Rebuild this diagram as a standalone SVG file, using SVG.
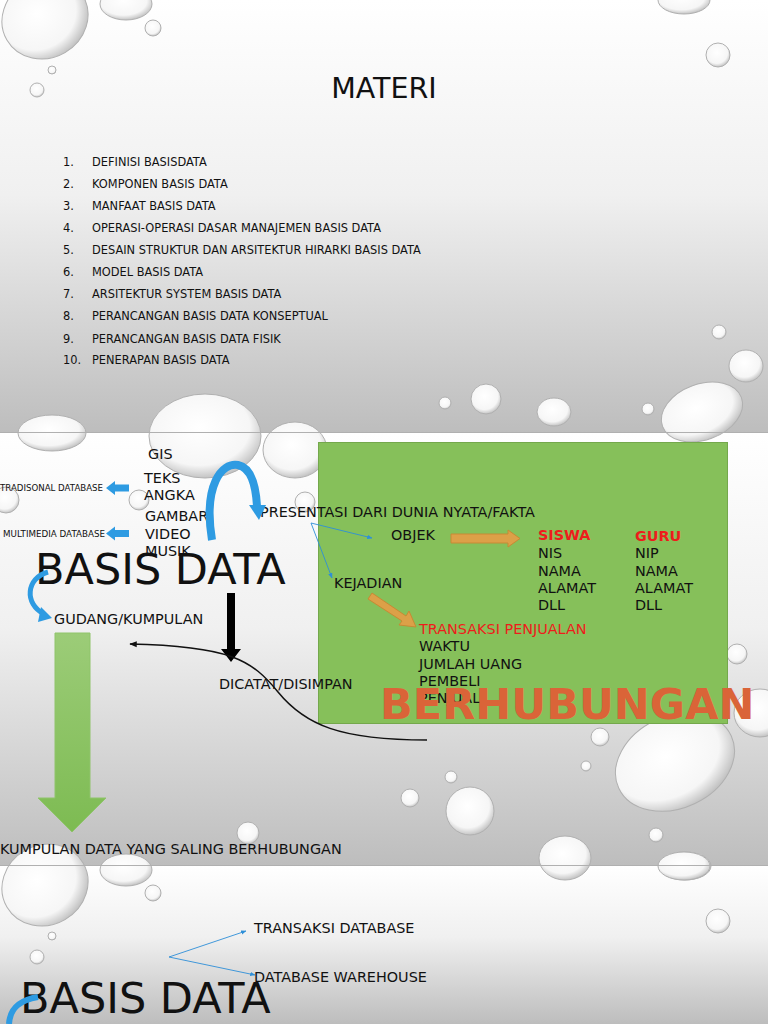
<svg xmlns="http://www.w3.org/2000/svg" width="768" height="1024" viewBox="0 0 768 1024">
<defs>
<linearGradient id="bg" x1="0" y1="0" x2="0" y2="1">
<stop offset="0" stop-color="#ffffff"/>
<stop offset="0.45" stop-color="#f0f0f0"/>
<stop offset="1" stop-color="#bdbdbd"/>
</linearGradient>
<radialGradient id="drop" cx="0.45" cy="0.4" r="0.6">
<stop offset="0" stop-color="#ffffff"/>
<stop offset="0.75" stop-color="#f6f6f6"/>
<stop offset="1" stop-color="#c4c4c4"/>
</radialGradient>
<linearGradient id="garrow" x1="0" y1="0" x2="0" y2="1">
<stop offset="0" stop-color="#9ccc78"/>
<stop offset="1" stop-color="#7dbb52"/>
</linearGradient>
<marker id="bluehead" viewBox="0 0 10 10" refX="9" refY="5" markerWidth="6" markerHeight="6" orient="auto">
<path d="M0,1 L10,5 L0,9 z" fill="#2e8fd8"/>
</marker>
<marker id="blackhead" viewBox="0 0 10 10" refX="9" refY="5" markerWidth="5" markerHeight="5" orient="auto">
<path d="M0,1 L10,5 L0,9 z" fill="#111"/>
</marker>
</defs>
<style>
text{font-family:"DejaVu Sans","Liberation Sans",sans-serif;fill:#111}
.li{font-size:11.4px}
.t14{font-size:14.4px}
.big{font-size:43px}
.sm{font-size:8.5px}
.red{fill:#ee1c1c}
.drop{fill:url(#drop);stroke:#b0b0b0;stroke-width:1}
.thin{fill:none;stroke:#2e8fd8;stroke-width:0.9;marker-end:url(#bluehead)}
.blue{fill:#2e9be2}
.orange{fill:#dca048;stroke:#c78a34;stroke-width:1}
</style>

<!-- slide backgrounds -->
<rect x="0" y="0" width="768" height="433" fill="url(#bg)"/>
<rect x="0" y="433" width="768" height="433" fill="url(#bg)"/>
<rect x="0" y="866" width="768" height="158" fill="url(#bg)"/>

<!-- water drops slide 1 -->
<g id="drops1">
<ellipse class="drop" cx="45" cy="18" rx="44" ry="40" transform="rotate(-30 45 18)"/>
<ellipse class="drop" cx="126" cy="4" rx="26" ry="16"/>
<circle class="drop" cx="153" cy="28" r="8"/>
<circle class="drop" cx="52" cy="70" r="4"/>
<circle class="drop" cx="37" cy="90" r="7"/>
<ellipse class="drop" cx="684" cy="0" rx="26" ry="14"/>
<circle class="drop" cx="718" cy="55" r="12"/>
<circle class="drop" cx="719" cy="332" r="7"/>
<ellipse class="drop" cx="746" cy="366" rx="17" ry="16"/>
<ellipse class="drop" cx="702" cy="412" rx="42" ry="28" transform="rotate(-20 702 412)"/>
<circle class="drop" cx="486" cy="399" r="15"/>
<ellipse class="drop" cx="554" cy="412" rx="17" ry="14"/>
<circle class="drop" cx="445" cy="403" r="6"/>
<circle class="drop" cx="648" cy="409" r="6"/>
</g>

<!-- water drops slide 2 -->
<g id="drops2">
<ellipse class="drop" cx="52" cy="433" rx="34" ry="18"/>
<ellipse class="drop" cx="205" cy="436" rx="56" ry="42"/>
<ellipse class="drop" cx="295" cy="450" rx="32" ry="28"/>
<circle class="drop" cx="6" cy="500" r="13"/>
<circle class="drop" cx="139" cy="500" r="10"/>
<circle class="drop" cx="305" cy="502" r="10"/>
<circle class="drop" cx="737" cy="654" r="10"/>
<ellipse class="drop" cx="760" cy="713" rx="26" ry="24"/>
<ellipse class="drop" cx="675" cy="762" rx="62" ry="46" transform="rotate(-25 675 762)"/>
<circle class="drop" cx="600" cy="737" r="9"/>
<circle class="drop" cx="586" cy="766" r="5"/>
<circle class="drop" cx="451" cy="777" r="6"/>
<circle class="drop" cx="410" cy="798" r="9"/>
<circle class="drop" cx="470" cy="811" r="24"/>
<circle class="drop" cx="656" cy="835" r="7"/>
<circle class="drop" cx="248" cy="833" r="11"/>
<ellipse class="drop" cx="565" cy="858" rx="26" ry="22"/>
<ellipse class="drop" cx="685" cy="866" rx="26" ry="14"/>
</g>

<!-- water drops slide 3 -->
<g id="drops3">
<ellipse class="drop" cx="45" cy="885" rx="44" ry="40" transform="rotate(-30 45 885)"/>
<ellipse class="drop" cx="126" cy="870" rx="26" ry="16"/>
<circle class="drop" cx="153" cy="893" r="8"/>
<circle class="drop" cx="52" cy="936" r="4"/>
<circle class="drop" cx="37" cy="957" r="7"/>
<ellipse class="drop" cx="684" cy="866" rx="26" ry="14"/>
<circle class="drop" cx="718" cy="921" r="12"/>
</g>
<line x1="0" y1="432.5" x2="768" y2="432.5" stroke="#b0b0b0" stroke-width="1"/>
<line x1="0" y1="865.5" x2="768" y2="865.5" stroke="#b0b0b0" stroke-width="1"/>

<!-- slide 1 -->
<g id="materi">
<text x="384" y="98" font-size="28.5" text-anchor="middle">MATERI</text>
</g>
<g id="list">
<text class="li" x="63" y="166">1.</text><text class="li" x="92" y="166">DEFINISI BASISDATA</text>
<text class="li" x="63" y="188">2.</text><text class="li" x="92" y="188">KOMPONEN BASIS DATA</text>
<text class="li" x="63" y="210">3.</text><text class="li" x="92" y="210">MANFAAT BASIS DATA</text>
<text class="li" x="63" y="232">4.</text><text class="li" x="92" y="232">OPERASI-OPERASI DASAR MANAJEMEN BASIS DATA</text>
<text class="li" x="63" y="254">5.</text><text class="li" x="92" y="254">DESAIN STRUKTUR DAN ARSITEKTUR HIRARKI BASIS DATA</text>
<text class="li" x="63" y="276">6.</text><text class="li" x="92" y="276">MODEL BASIS DATA</text>
<text class="li" x="63" y="298">7.</text><text class="li" x="92" y="298">ARSITEKTUR SYSTEM BASIS DATA</text>
<text class="li" x="63" y="320">8.</text><text class="li" x="92" y="320">PERANCANGAN BASIS DATA KONSEPTUAL</text>
<text class="li" x="63" y="343">9.</text><text class="li" x="92" y="343">PERANCANGAN BASIS DATA FISIK</text>
<text class="li" x="63" y="364">10.</text><text class="li" x="92" y="364">PENERAPAN BASIS DATA</text>
</g>

<!-- slide 2 -->
<g id="greenbox">
<rect x="318.5" y="442.5" width="409" height="281" fill="#86c05a" stroke="#74a84c" stroke-width="1"/>
</g>

<g id="types">
<text class="t14" x="148" y="459">GIS</text>
<text class="t14" x="144" y="483">TEKS</text>
<text class="t14" x="144" y="500">ANGKA</text>
<text class="t14" x="145" y="521">GAMBAR</text>
<text class="t14" x="145" y="539">VIDEO</text>
<text class="t14" x="145" y="556">MUSIK</text>
</g>
<g id="tradisional">
<text class="sm" x="0" y="491" textLength="103" lengthAdjust="spacingAndGlyphs">TRADISONAL DATABASE</text>
<path class="blue" d="M129,484.5 L115,484.5 L115,481 L106,488 L115,495 L115,491.5 L129,491.5 z"/>
</g>
<g id="multimedia">
<text class="sm" x="3" y="537" textLength="102" lengthAdjust="spacingAndGlyphs">MULTIMEDIA DATABASE</text>
<path class="blue" d="M129,530 L115,530 L115,526.5 L106,533.5 L115,540.5 L115,537 L129,537 z"/>
</g>
<g id="basisdata2">
<text class="big" x="35" y="584">BASIS DATA</text>
</g>
<g id="presentasi">
<text class="t14" x="260" y="517">PRESENTASI DARI DUNIA NYATA/FAKTA</text>
</g>
<g id="objek">
<text class="t14" x="391" y="540">OBJEK</text>
</g>
<g id="kejadian">
<text class="t14" x="334" y="588">KEJADIAN</text>
</g>
<g id="siswa">
<text class="t14 red" x="538" y="540" font-weight="bold">SISWA</text>
<text class="t14" x="538" y="558">NIS</text>
<text class="t14" x="538" y="576">NAMA</text>
<text class="t14" x="538" y="593">ALAMAT</text>
<text class="t14" x="538" y="610">DLL</text>
</g>
<g id="guru">
<text class="t14 red" x="635" y="541" font-weight="bold">GURU</text>
<text class="t14" x="635" y="558">NIP</text>
<text class="t14" x="635" y="576">NAMA</text>
<text class="t14" x="635" y="593">ALAMAT</text>
<text class="t14" x="635" y="610">DLL</text>
</g>
<g id="transaksi">
<text class="t14 red" x="419" y="634">TRANSAKSI PENJUALAN</text>
<text class="t14" x="419" y="651">WAKTU</text>
<text class="t14" x="419" y="669">JUMLAH UANG</text>
<text class="t14" x="419" y="686">PEMBELI</text>
<text class="t14" x="419" y="703">PENJUAL</text>
</g>
<g id="berhubungan">
<text x="380" y="719" font-size="43" font-weight="bold" style="fill:#da6438">BERHUBUNGAN</text>
</g>
<g id="gudang">
<text class="t14" x="54" y="624">GUDANG/KUMPULAN</text>
</g>
<g id="dicatat">
<text class="t14" x="219" y="689">DICATAT/DISIMPAN</text>
</g>
<g id="kumpulan">
<text class="t14" x="0" y="854">KUMPULAN DATA YANG SALING BERHUBUNGAN</text>
</g>

<!-- slide 3 -->
<g id="transdb">
<text class="t14" x="254" y="933">TRANSAKSI DATABASE</text>
</g>
<g id="warehouse">
<text class="t14" x="254" y="982">DATABASE WAREHOUSE</text>
</g>
<g id="basisdata3">
<text class="big" x="20" y="1013">BASIS DATA</text>
</g>

<!-- connectors -->
<g id="connectors">
<path d="M212,540 C203,485 222,462 238,465 C252,468 256,488 257,506" fill="none" stroke="#2e9be2" stroke-width="8"/>
<path class="blue" d="M249,505 L266,505 L259,520 z"/>
<path d="M48,572 C26,578 24,604 44,614" fill="none" stroke="#2e9be2" stroke-width="5"/>
<path class="blue" d="M41,607 L52,618 L38,622 z"/>
<path d="M9,1024 C10,1008 20,1000 38,997" fill="none" stroke="#2e9be2" stroke-width="6"/>
<path class="thin" d="M311,523 L372,538"/>
<path class="thin" d="M311,523 L332,578"/>
<path class="thin" d="M169,957 L246,931"/>
<path class="thin" d="M169,957 L255,975"/>
<path class="orange" d="M451,534 L508,534 L508,530 L520,538.5 L508,547 L508,543 L451,543 z"/>
<path class="orange" d="M368,599 L372,593 L406,616 L409,611 L416,627 L399,625 L402,621 z"/>
<path d="M227,593 L235,593 L235,649 L241,649 L231,662 L221,649 L227,649 z" fill="#000"/>
<path d="M427,740 C340,740 305,725 278,692 C252,660 230,646 130,644" fill="none" stroke="#111" stroke-width="1.5" marker-end="url(#blackhead)"/>
<path d="M55,633 L90,633 L90,798 L106,798 L72,832 L38,798 L55,798 z" fill="url(#garrow)" stroke="#8fc46a" stroke-width="1"/>
</g>
</svg>
